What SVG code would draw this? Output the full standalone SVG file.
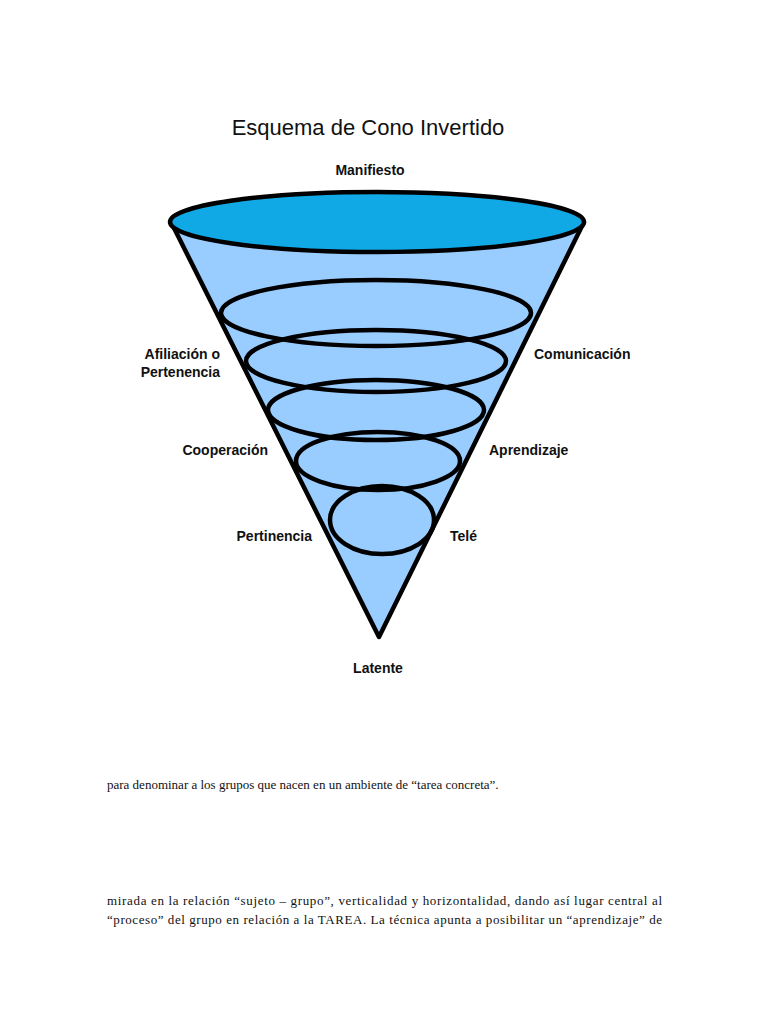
<svg xmlns="http://www.w3.org/2000/svg" width="768" height="1024" viewBox="0 0 768 1024">
<style>
.l{font-family:"Liberation Sans",Arial,sans-serif;font-weight:bold;font-size:14px;fill:#111}
.t{font-family:"Liberation Sans",Arial,sans-serif;font-size:22px;fill:#111}
.b{font-family:"Liberation Serif","Times New Roman",serif;font-size:13px;fill:#111}
.r{fill:none;stroke:#000;stroke-width:4.5}
</style>
<rect width="768" height="1024" fill="#fff"/>
<text class="t" x="368" y="135" text-anchor="middle">Esquema de Cono Invertido</text>
<g id="cone">
<path d="M171,222 L584,222 L379,637 Z" fill="#99ccff" stroke="#000" stroke-width="4.5" stroke-linejoin="round"/>
<ellipse cx="377" cy="222" rx="207" ry="30" fill="#11a8e6" stroke="#000" stroke-width="4.5"/>
</g>
<g id="rings">
<ellipse class="r" cx="376" cy="313" rx="155" ry="33"/>
<ellipse class="r" cx="376" cy="361" rx="130" ry="31"/>
<ellipse class="r" cx="376" cy="410" rx="108" ry="30"/>
<ellipse class="r" cx="378" cy="461" rx="82" ry="29"/>
<ellipse class="r" cx="382" cy="520" rx="52" ry="34"/>
</g>
<g id="labels">
<text class="l" x="370" y="175" text-anchor="middle">Manifiesto</text>
<text class="l" x="378" y="673" text-anchor="middle">Latente</text>
<text class="l" x="220" y="359" text-anchor="end">Afiliación o</text>
<text class="l" x="220" y="377" text-anchor="end">Pertenencia</text>
<text class="l" x="534" y="359">Comunicación</text>
<text class="l" x="268" y="455" text-anchor="end">Cooperación</text>
<text class="l" x="489" y="455">Aprendizaje</text>
<text class="l" x="312" y="541" text-anchor="end">Pertinencia</text>
<text class="l" x="450" y="541">Telé</text>
</g>
<text class="b" x="107" y="789">para denominar a los grupos que nacen en un ambiente de “tarea concreta”.</text>
<text class="b" x="107" y="905" textLength="555" lengthAdjust="spacing">mirada en la relación “sujeto – grupo”, verticalidad y horizontalidad, dando así lugar central al</text>
<text class="b" x="107" y="924" textLength="555" lengthAdjust="spacing">“proceso” del grupo en relación a la TAREA. La técnica apunta a posibilitar un “aprendizaje” de</text>
</svg>
